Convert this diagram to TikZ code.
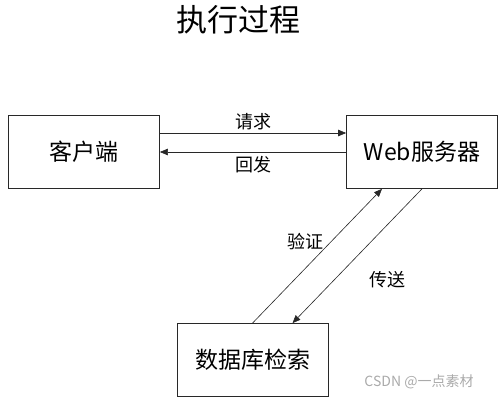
\documentclass[tikz,border=0pt]{standalone}
\usepackage{fontspec}
\newfontfamily\cjk{Noto Sans CJK SC}
\usepackage{tikz}
\usetikzlibrary{arrows.meta, positioning, calc}
\usepackage{xcolor}
\definecolor{linegray}{RGB}{40, 40, 40}
\definecolor{markgray}{RGB}{170, 170, 170}

\begin{document}
\begin{tikzpicture}[x=1pt, y=-1pt,
    box/.style={draw=linegray, line width=0.7pt, rectangle, minimum width=151pt, minimum height=73pt, align=center, font=\cjk\fontsize{23}{26}\selectfont},
    flow/.style={draw=linegray, line width=0.6pt, -{Triangle[length=8pt, width=6.5pt]}},
    lbl/.style={font=\cjk\fontsize{18}{20}\selectfont}]

\useasboundingbox (0,0) rectangle (503,403);

\node[font=\cjk\fontsize{31}{34}\selectfont] (title) at (238,20) {执行过程};

\node[box] (client) at (84,152) {客户端};
\node[box] (web) at (422,152) {Web服务器};
\node[box] (db) at (252.5,360) {数据库检索};

\draw[flow] ([yshift=19pt]client.east) -- ([yshift=19pt]web.west)
    node[lbl, midway, above=-1pt] (req) {请求};
\draw[flow] (web.west) -- (client.east)
    node[lbl, midway, below=1pt] (back) {回发};
\draw[flow] (db.north) -- ([xshift=-40pt]web.south);
\draw[flow] (web.south) -- ([xshift=40pt]db.north);

\node[lbl] (check) at (305,242) {验证};
\node[lbl] (send) at (387,280) {传送};

\node[font=\cjk\fontsize{14}{16}\selectfont, text=markgray] (mark) at (419,382) {CSDN @一点素材};
\end{tikzpicture}
\end{document}
